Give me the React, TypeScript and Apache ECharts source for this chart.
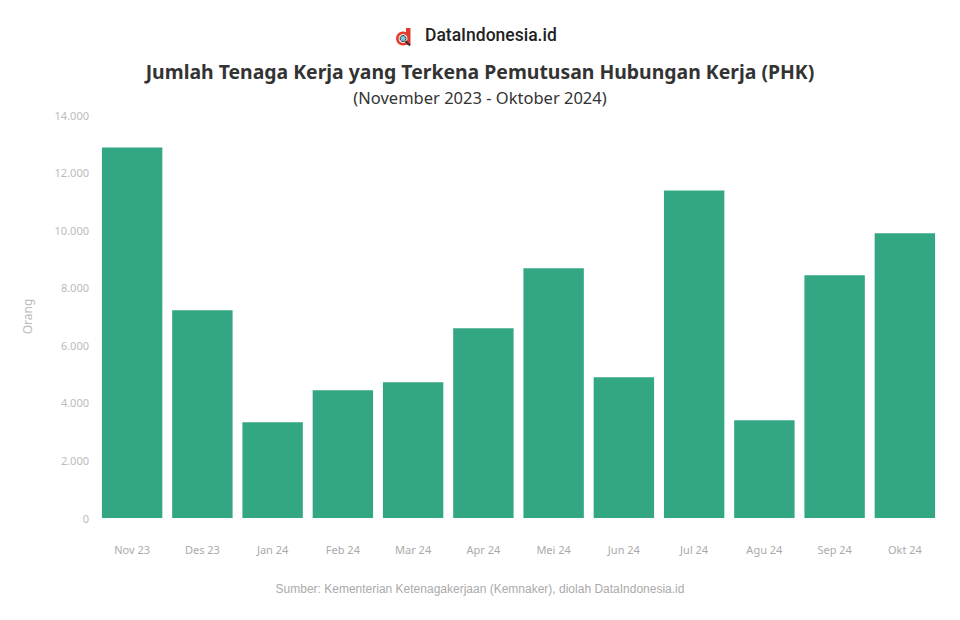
import React, { useEffect, useRef } from "react";
import * as echarts from "echarts";

const months = ["Nov 23", "Des 23", "Jan 24", "Feb 24", "Mar 24", "Apr 24", "Mei 24", "Jun 24", "Jul 24", "Agu 24", "Sep 24", "Okt 24"];
const workers = [12870, 7220, 3330, 4440, 4720, 6590, 8680, 4890, 11380, 3400, 8430, 9890];
const yTicks = { min: 0, max: 14000, interval: 2000 };

const fmt = (v: number) => v.toLocaleString("id-ID");

export default function App() {
  const ref = useRef<HTMLDivElement>(null);
  useEffect(() => {
    document.body.style.margin = "0";
    if (!ref.current) return;
    const chart = echarts.init(ref.current, undefined, { renderer: "svg" });
    chart.setOption({
      animation: false,
      backgroundColor: "#ffffff",
      textStyle: { fontFamily: "'Noto Sans', sans-serif" },
      title: [
        {
          text: "Jumlah Tenaga Kerja yang Terkena Pemutusan Hubungan Kerja (PHK)",
          left: "center",
          top: 60,
          padding: 0,
          textStyle: { fontSize: 19.4, lineHeight: 22, fontWeight: "bold", color: "#333333", fontFamily: "'Noto Sans', sans-serif" },
        },
        {
          text: "(November 2023 - Oktober 2024)",
          left: "center",
          top: 88,
          padding: 0,
          textStyle: { fontSize: 16.5, lineHeight: 18, fontWeight: "normal", color: "#333333", fontFamily: "'Noto Sans', sans-serif" },
        },
      ],
      graphic: [
        {
          type: "text",
          left: 425,
          top: 26,
          style: { text: "DataIndonesia.id", fontSize: 17.5, fontWeight: 500, fill: "#222222", fontFamily: "Roboto, sans-serif" },
        },
        { type: "rect", shape: { x: 406, y: 28, width: 4.5, height: 17 }, style: { fill: "#e23b2e" } },
        { type: "circle", shape: { cx: 403, cy: 38.5, r: 7 }, style: { fill: "#e23b2e" } },
        { type: "circle", shape: { cx: 403, cy: 38.5, r: 4.4 }, style: { fill: "#ffffff" } },
        { type: "circle", shape: { cx: 403, cy: 38.5, r: 3 }, style: { fill: "#7fc6e0", stroke: "#333", lineWidth: 1 } },
        { type: "line", shape: { x1: 405.5, y1: 41, x2: 410, y2: 45.5 }, style: { stroke: "#333333", lineWidth: 2 } },
        {
          type: "text",
          left: "center",
          top: 583,
          style: { text: "Sumber: Kementerian Ketenagakerjaan (Kemnaker), diolah DataIndonesia.id", fontSize: 12, fill: "#aaaaaa" },
        },
      ],
      grid: { left: 97, right: 20, top: 115, bottom: 102 },
      xAxis: {
        type: "category",
        data: months,
        axisLine: { show: false },
        axisTick: { show: false },
        axisLabel: { color: "#aaaaaa", fontSize: 11, margin: 26 },
      },
      yAxis: {
        type: "value",
        min: yTicks.min,
        max: yTicks.max,
        interval: yTicks.interval,
        name: "Orang",
        nameLocation: "middle",
        nameGap: 64,
        nameRotate: 90,
        nameTextStyle: { color: "#bbbbbb", fontSize: 12 },
        axisLine: { show: false },
        axisTick: { show: false },
        splitLine: { show: false },
        axisLabel: { color: "#bbbbbb", fontSize: 11, formatter: (v: number) => fmt(v) },
      },
      series: [
        {
          type: "bar",
          data: workers,
          barWidth: "86%",
          itemStyle: { color: "#33a784" },
        },
      ],
    });
    return () => chart.dispose();
  }, []);
  return <div ref={ref} style={{ width: 960, height: 620 }} />;
}
